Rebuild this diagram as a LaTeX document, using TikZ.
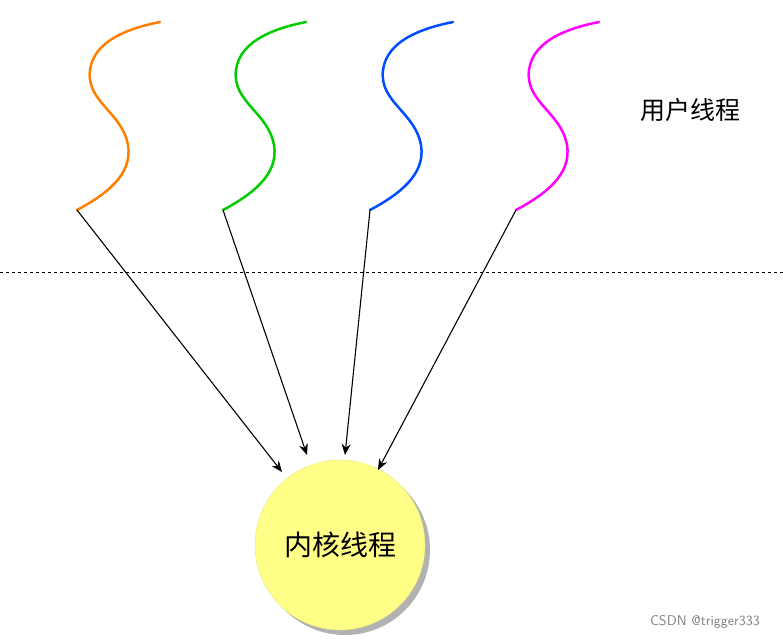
\documentclass[tikz,border=0pt]{standalone}
\usepackage{fontspec}
\usetikzlibrary{arrows.meta}
\newfontfamily\cjk{Noto Sans CJK SC}
\begin{document}
\begin{tikzpicture}[x=1pt,y=-1pt,
  wave/.style={line width=2.5pt,line cap=round},
  arr/.style={-{Stealth[length=11pt,width=9pt]},line width=1.1pt}]
\useasboundingbox (0,0) rectangle (783,642);
\foreach \dx/\c/\n in {0/orange/o,146/green!80!black/g,293/blue!70!cyan/b,439/{rgb,255:red,255;green,0;blue,255}/m}{
  \draw[wave,draw=\c,shift={(\dx,0)}] (77,210) .. controls (105,195) and (133,175) .. (128,145) .. controls (122,112) and (86,102) .. (90,70) .. controls (94,40) and (130,28) .. (160,22);
  \coordinate (\n) at (77+\dx,210);
}
\draw[dashed,line width=1pt] (0,272) -- (783,272);
\node[font=\cjk,scale=2.5] (ut) at (690,110) {用户线程};
\fill[gray!60] (345,550) circle (85);
\node[circle,minimum size=170pt,fill={rgb,255:red,255;green,255;blue,136},draw={rgb,255:red,230;green,230;blue,120},inner sep=0pt] (k) at (340,545) {};
\node[font=\cjk,scale=2.8] at (k) {内核线程};
\coordinate (t1) at (282,472);
\coordinate (t2) at (307,455);
\coordinate (t3) at (345,455);
\coordinate (t4) at (378,470);
\draw[arr] (o) -- (t1);
\draw[arr] (g) -- (t2);
\draw[arr] (b) -- (t3);
\draw[arr] (m) -- (t4);
\node[font=\sffamily,text=gray,scale=1.4] (wm) at (705,622) {CSDN @trigger333};
\end{tikzpicture}
\end{document}
